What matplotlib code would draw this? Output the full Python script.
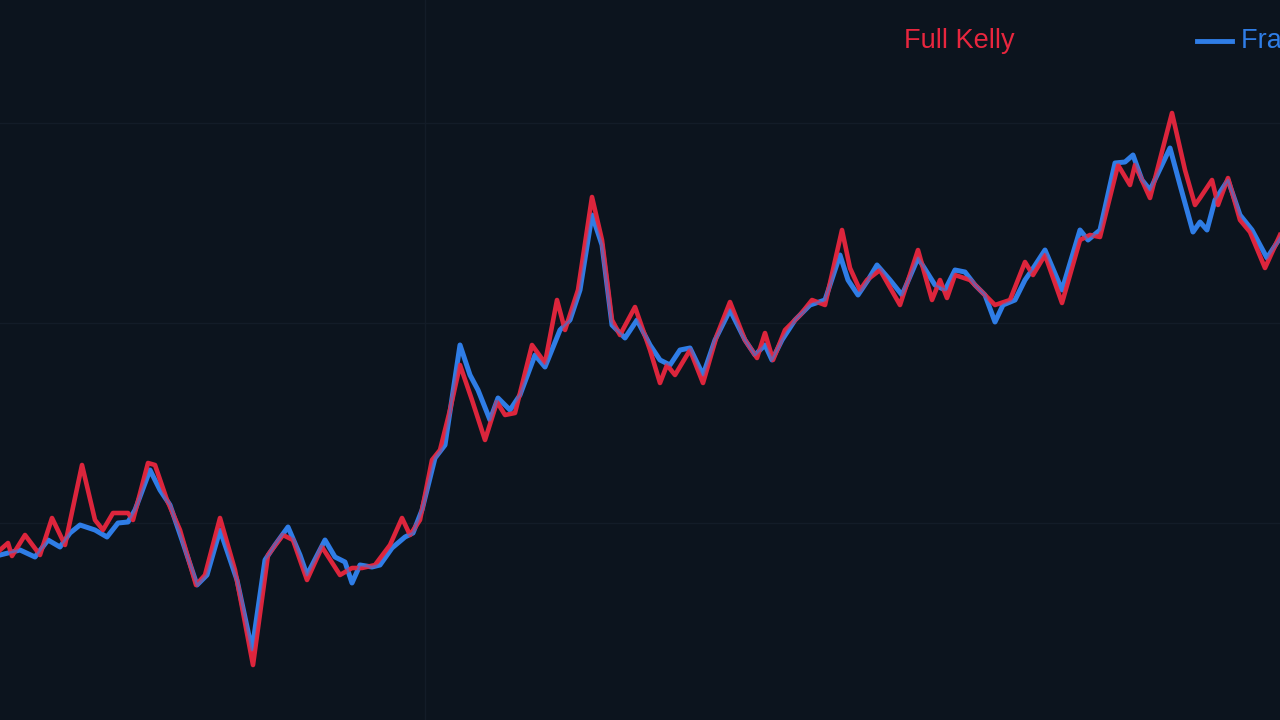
import matplotlib
matplotlib.use("Agg")
import matplotlib.pyplot as plt

# (trade number, equity index) vertices for each strategy
full_kelly_points = [
    (0, 170), (1.6, 177), (2.4, 164), (5, 185), (8, 165), (10.4, 202), (13, 175), (16.4, 255),
    (19, 200), (20.6, 190), (22.6, 207), (25.6, 207), (26.6, 200), (29.6, 257), (31, 255),
    (33.4, 220), (36, 190), (39.2, 135), (41, 145), (44, 202), (47, 150), (50.6, 55),
    (53.6, 165), (56.6, 185), (58.6, 180), (61.4, 140), (64.4, 173), (68, 145), (70.4, 152),
    (72.4, 152), (75, 155), (78, 175), (80.4, 202), (82, 185), (84, 200), (86.4, 260),
    (88, 270), (90, 310), (92, 355), (94.4, 320), (97, 280), (99.4, 318), (101, 305),
    (103, 307), (106.4, 375), (109, 357), (111.4, 420), (113, 390), (115.6, 430), (118.4, 523),
    (120.4, 480), (122.4, 400), (124, 385), (127, 413), (130, 370), (132, 337), (133.4, 355),
    (135, 345), (138, 370), (140.6, 337), (143.4, 385), (146, 418), (149, 380), (151.4, 362),
    (153, 387), (154.6, 360), (157, 390), (160, 405), (162.4, 420), (165, 415), (168.4, 490),
    (170, 452), (172, 430), (173.4, 440), (176, 450), (180, 415), (183.6, 470), (186.4, 420),
    (188, 440), (189.4, 422), (191, 445), (194, 440), (196, 430), (199, 415), (202, 420),
    (205, 458), (206.6, 445), (209, 465), (212.4, 417), (216, 480), (218, 485), (220, 483),
    (223.6, 555), (226, 535), (227, 555), (230, 522), (234.4, 607), (237, 550), (239, 515),
    (240, 522), (242.4, 540), (243.6, 515), (245.6, 542), (248, 500), (250, 488), (253, 452),
    (256, 485),
]
fractional_kelly_points = [
    (0, 165), (1.6, 167), (4, 170), (7, 163), (9.6, 180), (12, 173), (14, 187), (16, 195),
    (19, 190), (21.4, 183), (23.6, 197), (25.6, 198), (27, 210), (30, 250), (32, 230),
    (34, 215), (36.4, 180), (39.4, 135), (41.4, 145), (44, 190), (47.4, 140), (50.4, 70),
    (53, 160), (55, 175), (57.6, 193), (60, 165), (61.4, 145), (65, 180), (67, 163), (69, 158),
    (70.4, 137), (72, 155), (74.4, 153), (76, 155), (78.4, 172), (81, 183), (82.6, 187),
    (84.4, 210), (87, 262), (89, 275), (92, 375), (94, 345), (95.6, 330), (98, 300),
    (99.6, 322), (102, 310), (104, 325), (107, 365), (109, 353), (112, 390), (114, 400),
    (116, 430), (118.4, 505), (120.4, 475), (122.4, 395), (125, 382), (127.4, 400), (130, 375),
    (132, 360), (134, 355), (136, 370), (138, 372), (140.6, 345), (143, 380), (146, 410),
    (149, 380), (151, 365), (153, 375), (154.4, 360), (156.4, 380), (159, 400), (162, 415),
    (165, 420), (168, 465), (169.6, 440), (171.6, 425), (173.6, 440), (175.4, 455), (178, 440),
    (180.4, 425), (183.6, 462), (187, 435), (189, 430), (191, 450), (193, 448), (195, 435),
    (197, 425), (199, 398), (200.6, 415), (203, 420), (205, 440), (206.4, 450), (209, 470),
    (212.4, 430), (216, 490), (217.6, 480), (220, 490), (223, 557), (225, 558), (226.6, 565),
    (228.4, 540), (230, 530), (234, 572), (236, 535), (238.6, 488), (240, 498), (241.4, 490),
    (243, 520), (245.6, 540), (248, 505), (250.4, 490), (253.4, 462), (256, 482),
]

trade_limits = [0, 256]
equity_limits = [0, 720]
grid_trades = [85]
grid_equity = [197, 397, 597]

series_names = ["Full Kelly", "Fractional Kelly"]

full_x = [p[0] for p in full_kelly_points]
full_y = [p[1] for p in full_kelly_points]
frac_x = [p[0] for p in fractional_kelly_points]
frac_y = [p[1] for p in fractional_kelly_points]

BG = "#0c141e"
RED = "#e8263e"
BLUE = "#2f7de6"
GRID = "#131c28"

fig = plt.figure(figsize=(12.8, 7.2), dpi=100, facecolor=BG)
ax = fig.add_axes([0, 0, 1, 1])
ax.set_facecolor(BG)
ax.set_xlim(*trade_limits)
ax.set_ylim(*equity_limits)

for g in grid_equity:
    ax.axhline(g, color=GRID, lw=1.0, zorder=0)
for g in grid_trades:
    ax.axvline(g, color=GRID, lw=1.0, zorder=0)

ax.plot(frac_x, frac_y, color=BLUE, lw=3.6, solid_joinstyle="round", zorder=2)
ax.plot(full_x, full_y, color=RED, lw=3.3, solid_joinstyle="round", zorder=3, alpha=0.95)
ax.plot(frac_x, frac_y, color=BLUE, lw=1.8, solid_joinstyle="round", zorder=4, alpha=0.6)

for s in ax.spines.values():
    s.set_visible(False)
ax.set_xticks([])
ax.set_yticks([])

# Legend drawn as text entries in figure coordinates (right entry runs off the edge as in the source)
fig.text(904 / 1280, 1 - 41 / 720, series_names[0], color=RED, fontsize=19.5,
         family=["Liberation Sans", "DejaVu Sans"], va="center", ha="left")
fig.add_artist(plt.Line2D([1197 / 1280, 1232 / 1280], [1 - 41 / 720, 1 - 41 / 720],
                          color=BLUE, lw=3.5, transform=fig.transFigure))
fig.text(1241 / 1280, 1 - 41 / 720, series_names[1], color=BLUE, fontsize=19.5,
         family=["Liberation Sans", "DejaVu Sans"], va="center", ha="left")

fig.savefig("out.png", dpi=100, facecolor=BG)
